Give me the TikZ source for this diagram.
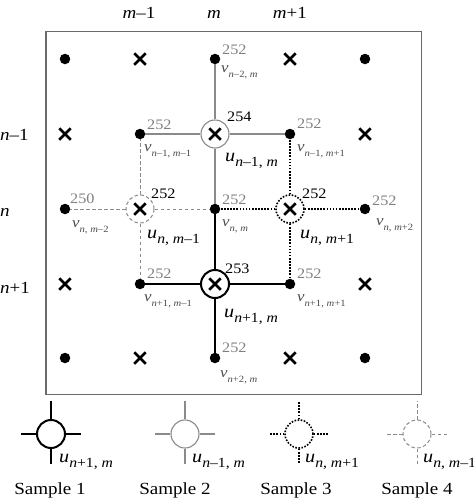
\documentclass[tikz,border=0pt]{standalone}
\usepackage{fontspec}
\usepackage{graphicx}
\setmainfont{Liberation Serif}
\usetikzlibrary{shapes.misc}
\newcommand{\hs}[1]{\scalebox{1.12}[1]{#1}}
\newcommand{\ulab}[1]{\hs{\fontsize{18}{18}\selectfont\textit{u}\raisebox{-0.28em}{\fontsize{14}{14}\selectfont #1}}}
\newcommand{\vlab}[1]{\hs{\fontsize{15}{15}\selectfont\textit{v}\raisebox{-0.36em}{\fontsize{9.5}{9.5}\selectfont #1}}}
\newcommand{\smp}[1]{\hs{\fontsize{17}{17}\selectfont #1}}
\definecolor{lgray}{HTML}{8A8A8A}
\definecolor{ngray}{HTML}{808080}
\definecolor{vgray}{HTML}{4A4A4A}
\definecolor{fgray}{HTML}{6A6A6A}
\begin{document}
\begin{tikzpicture}[x=1pt,y=-1pt,
  dot/.style={circle, fill=black, inner sep=0, minimum size=10.5pt},
  xmark/.style={cross out, draw=black, line width=2.5pt, inner sep=0, minimum size=9pt},
  ring/.style={circle, inner sep=0, minimum size=28pt, draw},
  sone/.style={line width=2pt, draw=black},
  stwo/.style={line width=1.1pt, draw=lgray},
  sthree/.style={line width=1.6pt, draw=black, dash pattern=on 1.6pt off 1.5pt},
  sfour/.style={line width=1pt, draw=lgray, dash pattern=on 3.5pt off 2.5pt},
  num/.style={anchor=base west, inner sep=0, text=ngray, font=\fontsize{14.5}{14.5}\selectfont},
  cnum/.style={anchor=base west, inner sep=0, text=black, font=\fontsize{14.5}{14.5}\selectfont},
  vl/.style={anchor=base west, inner sep=0, text=vgray},
  ul/.style={anchor=base west, inner sep=0, text=black},
  axl/.style={inner sep=0, text=black, font=\fontsize{17}{17}\selectfont},
  frame/.style={draw=fgray, line width=1.3pt}
]
\useasboundingbox (0,0) rectangle (474,499);
\draw[frame] (46,31.5) rectangle (421.5,394.5);

% axis labels
\node[axl, anchor=base] (cm1) at (139,18) {\hs{\textit{m}–1}};
\node[axl, anchor=base] (cm) at (214,18) {\hs{\textit{m}}};
\node[axl, anchor=base] (cp1) at (290,18) {\hs{\textit{m}+1}};
\node[axl, anchor=base west] (rn1) at (0,140) {\hs{\textit{n}–1}};
\node[axl, anchor=base west] (rn) at (0,216) {\hs{\textit{n}}};
\node[axl, anchor=base west] (rp1) at (0,293) {\hs{\textit{n}+1}};

% dots
\node[dot] (d00) at (65,59) {};
\node[dot] (d02) at (215,59) {};
\node[dot] (d04) at (365,59) {};
\node[dot] (d11) at (140,134) {};
\node[dot] (d13) at (290,134) {};
\node[dot] (d20) at (65,209) {};
\node[dot] (d22) at (215,209) {};
\node[dot] (d24) at (365,209) {};
\node[dot] (d31) at (140,284) {};
\node[dot] (d33) at (290,284) {};
\node[dot] (d40) at (65,358) {};
\node[dot] (d42) at (215,358) {};
\node[dot] (d44) at (365,358) {};

% crosses
\node[xmark] (x01) at (140,59) {};
\node[xmark] (x03) at (290,59) {};
\node[xmark] (x10) at (65,134) {};
\node[xmark] (x12) at (215,134) {};
\node[xmark] (x14) at (365,134) {};
\node[xmark] (x21) at (140,209) {};
\node[xmark] (x23) at (290,209) {};
\node[xmark] (x30) at (65,284) {};
\node[xmark] (x32) at (215,284) {};
\node[xmark] (x34) at (365,284) {};
\node[xmark] (x41) at (140,358) {};
\node[xmark] (x43) at (290,358) {};

% rings
\node[ring, stwo] (c12) at (215,134) {};
\node[ring, sfour] (c21) at (140,209) {};
\node[ring, sthree] (c23) at (290,209) {};
\node[ring, sone] (c32) at (215,284) {};

% connectors
\draw[stwo] (c12) -- (d02);
\draw[stwo] (c12) -- (d11);
\draw[stwo] (c12) -- (d13);
\draw[stwo] (c12) -- (d22);
\draw[sfour] (c21) -- (d11);
\draw[sfour] (c21) -- (d20);
\draw[sfour] (c21) -- (d22);
\draw[sfour] (c21) -- (d31);
\draw[sthree] (c23) -- (d13);
\draw[sthree] (c23) -- (d22);
\draw[sthree] (c23) -- (d24);
\draw[sthree] (c23) -- (d33);
\draw[sone] (c32) -- (d22);
\draw[sone] (c32) -- (d31);
\draw[sone] (c32) -- (d33);
\draw[sone] (c32) -- (d42);

% gray numbers
\node[num] (n02) at (222,54) {\hs{252}};
\node[num] (n11) at (147,129) {\hs{252}};
\node[num] (n13) at (297,128) {\hs{252}};
\node[num] (n20) at (70,203) {\hs{250}};
\node[num] (n22) at (222,204) {\hs{252}};
\node[num] (n24) at (372,205) {\hs{252}};
\node[num] (n31) at (147,278) {\hs{252}};
\node[num] (n33) at (297,278) {\hs{252}};
\node[num] (n42) at (222,352) {\hs{252}};

% black numbers
\node[cnum] (k12) at (227,121) {\hs{254}};
\node[cnum] (k21) at (151,198) {\hs{252}};
\node[cnum] (k23) at (302,198) {\hs{252}};
\node[cnum] (k32) at (225,273) {\hs{253}};

% v labels
\node[vl] (v02) at (221,72) {\vlab{\textit{n}–2, \textit{m}}};
\node[vl] (v11) at (144,151) {\vlab{\textit{n}–1, \textit{m}–1}};
\node[vl] (v13) at (297,151) {\vlab{\textit{n}–1, \textit{m}+1}};
\node[vl] (v20) at (72,227) {\vlab{\textit{n}, \textit{m}–2}};
\node[vl] (v22) at (222,226) {\vlab{\textit{n}, \textit{m}}};
\node[vl] (v24) at (376,225) {\vlab{\textit{n}, \textit{m}+2}};
\node[vl] (v31) at (144,301) {\vlab{\textit{n}+1, \textit{m}–1}};
\node[vl] (v33) at (297,301) {\vlab{\textit{n}+1, \textit{m}+1}};
\node[vl] (v42) at (220,377) {\vlab{\textit{n}+2, \textit{m}}};

% u labels
\node[ul] (u12) at (225,161) {\ulab{\textit{n}–1, \textit{m}}};
\node[ul] (u21) at (147,238) {\ulab{\textit{n}, \textit{m}–1}};
\node[ul] (u23) at (300,238) {\ulab{\textit{n}, \textit{m}+1}};
\node[ul] (u32) at (224,317) {\ulab{\textit{n}+1, \textit{m}}};

% samples
\node[ring, sone] (s1) at (51,434) {};
\coordinate (s1t) at (51,401); \coordinate (s1b) at (51,464);
\coordinate (s1l) at (21,434); \coordinate (s1r) at (81,434);
\draw[sone] (s1.north) -- (s1t); \draw[sone] (s1.south) -- (s1b);
\draw[sone] (s1.west) -- (s1l); \draw[sone] (s1.east) -- (s1r);

\node[ring, stwo] (s2) at (185,434) {};
\coordinate (s2t) at (185,401); \coordinate (s2b) at (185,464);
\coordinate (s2l) at (155,434); \coordinate (s2r) at (215,434);
\draw[stwo] (s2.north) -- (s2t); \draw[stwo] (s2.south) -- (s2b);
\draw[stwo] (s2.west) -- (s2l); \draw[stwo] (s2.east) -- (s2r);

\node[ring, sthree] (s3) at (299,434) {};
\coordinate (s3t) at (299,401); \coordinate (s3b) at (299,464);
\coordinate (s3l) at (269,434); \coordinate (s3r) at (329,434);
\draw[sthree] (s3.north) -- (s3t); \draw[sthree] (s3.south) -- (s3b);
\draw[sthree] (s3.west) -- (s3l); \draw[sthree] (s3.east) -- (s3r);

\node[ring, sfour] (s4) at (417,434) {};
\coordinate (s4t) at (417,401); \coordinate (s4b) at (417,464);
\coordinate (s4l) at (387,434); \coordinate (s4r) at (447,434);
\draw[sfour] (s4.north) -- (s4t); \draw[sfour] (s4.south) -- (s4b);
\draw[sfour] (s4.west) -- (s4l); \draw[sfour] (s4.east) -- (s4r);

\node[ul] (su1) at (59,462) {\ulab{\textit{n}+1, \textit{m}}};
\node[ul] (su2) at (192,462) {\ulab{\textit{n}–1, \textit{m}}};
\node[ul] (su3) at (305,462) {\ulab{\textit{n}, \textit{m}+1}};
\node[ul] (su4) at (423,462) {\ulab{\textit{n}, \textit{m}–1}};

\node[anchor=base, inner sep=0] (t1) at (50,494) {\smp{Sample 1}};
\node[anchor=base, inner sep=0] (t2) at (175,494) {\smp{Sample 2}};
\node[anchor=base, inner sep=0] (t3) at (296,494) {\smp{Sample 3}};
\node[anchor=base, inner sep=0] (t4) at (417,494) {\smp{Sample 4}};
\end{tikzpicture}
\end{document}
